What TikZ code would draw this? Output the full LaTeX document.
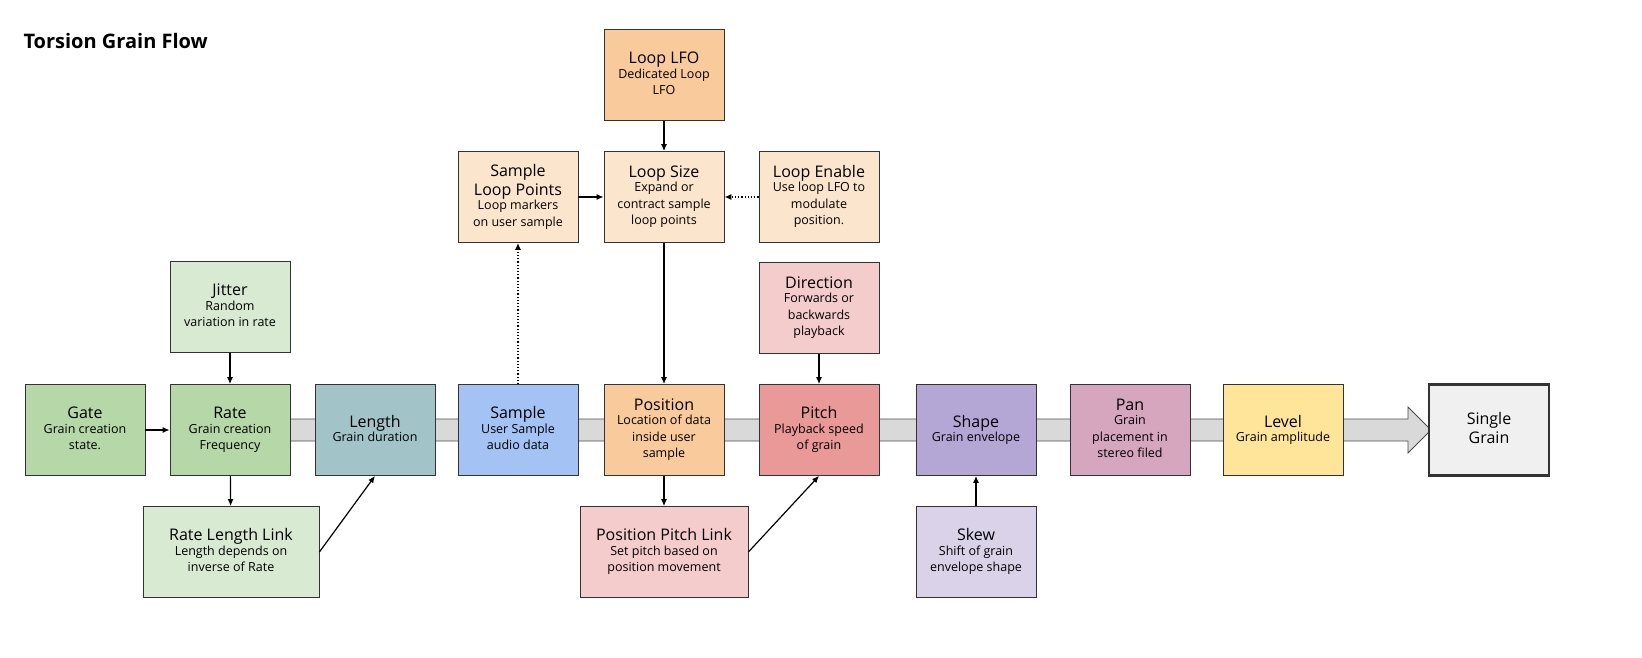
\documentclass[tikz,border=0pt]{standalone}
\usepackage{fontspec}
\setmainfont{Open Sans}
\usetikzlibrary{arrows.meta}
\definecolor{cgreen}{RGB}{182,215,168}
\definecolor{cltgreen}{RGB}{217,234,211}
\definecolor{cteal}{RGB}{162,196,201}
\definecolor{cblue}{RGB}{164,194,244}
\definecolor{corange}{RGB}{249,203,156}
\definecolor{cltorange}{RGB}{252,229,205}
\definecolor{cred}{RGB}{234,153,153}
\definecolor{cltred}{RGB}{244,204,204}
\definecolor{cpurple}{RGB}{180,167,214}
\definecolor{cltpurple}{RGB}{217,210,233}
\definecolor{cmagenta}{RGB}{213,166,189}
\definecolor{cyellow}{RGB}{255,229,153}
\newcommand{\tcell}[1]{\begin{tabular}{@{}c@{}}#1\end{tabular}}
\newcommand{\bx}[2]{\begin{tabular}{@{}c@{}}\fontsize{16}{19}\selectfont\tcell{#1}\\[-3pt]\fontsize{12.5}{16.5}\selectfont\tcell{#2}\end{tabular}}
\begin{document}
\begin{tikzpicture}[x=1pt,y=-1pt,
  box/.style={draw=black!80,line width=0.8pt,minimum width=120pt,minimum height=91pt,inner sep=2pt},
  arr/.style={-{Latex[length=7pt,width=6pt]},line width=1.2pt},
  dot/.style={arr,dotted,line width=1.3pt}]
\useasboundingbox (0,0) rectangle (1642,658);
\node[anchor=west,font=\fontsize{20}{24}\selectfont\bfseries] (title) at (20,41) {Torsion Grain Flow};
\fill[black!15,draw=black!70,line width=0.8pt] (290,419) -- (1408,419) -- (1408,407) -- (1431,430) -- (1408,453) -- (1408,441) -- (290,441) -- cycle;
\node[box,fill=cgreen] (gate) at (85,430) {\bx{Gate}{Grain creation\\state.}};
\node[box,fill=cgreen] (rate) at (230,430) {\bx{Rate}{Grain creation\\Frequency}};
\node[box,fill=cteal] (length) at (375,430) {\bx{Length}{Grain duration}};
\node[box,fill=cblue] (sample) at (518,430) {\bx{Sample}{User Sample\\audio data}};
\node[box,fill=corange] (position) at (664,430) {\bx{Position}{Location of data\\inside user\\sample}};
\node[box,fill=cred] (pitch) at (819,430) {\bx{Pitch}{Playback speed\\of grain}};
\node[box,fill=cpurple] (shape) at (976,430) {\bx{Shape}{Grain envelope}};
\node[box,fill=cmagenta] (pan) at (1130,430) {\bx{Pan}{Grain\\placement in\\stereo filed}};
\node[box,fill=cyellow] (level) at (1283,430) {\bx{Level}{Grain amplitude}};
\node[box,fill=black!6,line width=2.5pt,font=\fontsize{16}{19}\selectfont] (single) at (1489,430) {\tcell{Single\\Grain}};
\node[box,fill=cltgreen] (jitter) at (230,307) {\bx{Jitter}{Random\\variation in rate}};
\node[box,fill=cltgreen,minimum width=176pt] (rll) at (231,552) {\bx{Rate Length Link}{Length depends on\\inverse of Rate}};
\node[box,fill=cltred,minimum width=168pt] (ppl) at (664,552) {\bx{Position Pitch Link}{Set pitch based on\\position movement}};
\node[box,fill=cltpurple] (skew) at (976,552) {\bx{Skew}{Shift of grain\\envelope shape}};
\node[box,fill=cltred] (dir) at (819,308) {\bx{Direction}{Forwards or\\backwards\\playback}};
\node[box,fill=cltorange] (slp) at (518,197) {\bx{Sample\\Loop Points}{Loop markers\\on user sample}};
\node[box,fill=cltorange] (lsize) at (664,197) {\bx{Loop Size}{Expand or\\contract sample\\loop points}};
\node[box,fill=cltorange] (lenable) at (819,197) {\bx{Loop Enable}{Use loop LFO to\\modulate\\position.}};
\node[box,fill=corange] (lfo) at (664,75) {\bx{Loop LFO}{Dedicated Loop\\LFO}};
\draw[arr] (gate) -- (rate);
\draw[arr] (jitter) -- (rate);
\draw[arr] (rate) -- (rll);
\draw[arr] (rll.east) -- (length.south);
\draw[dot] (sample) -- (slp);
\draw[arr] (slp) -- (lsize);
\draw[dot] (lenable) -- (lsize);
\draw[arr] (lfo) -- (lsize);
\draw[arr] (lsize) -- (position);
\draw[arr] (position) -- (ppl);
\draw[arr] (ppl.east) -- (pitch.south);
\draw[arr] (dir) -- (pitch);
\draw[arr] (skew) -- (shape);
\end{tikzpicture}
\end{document}
